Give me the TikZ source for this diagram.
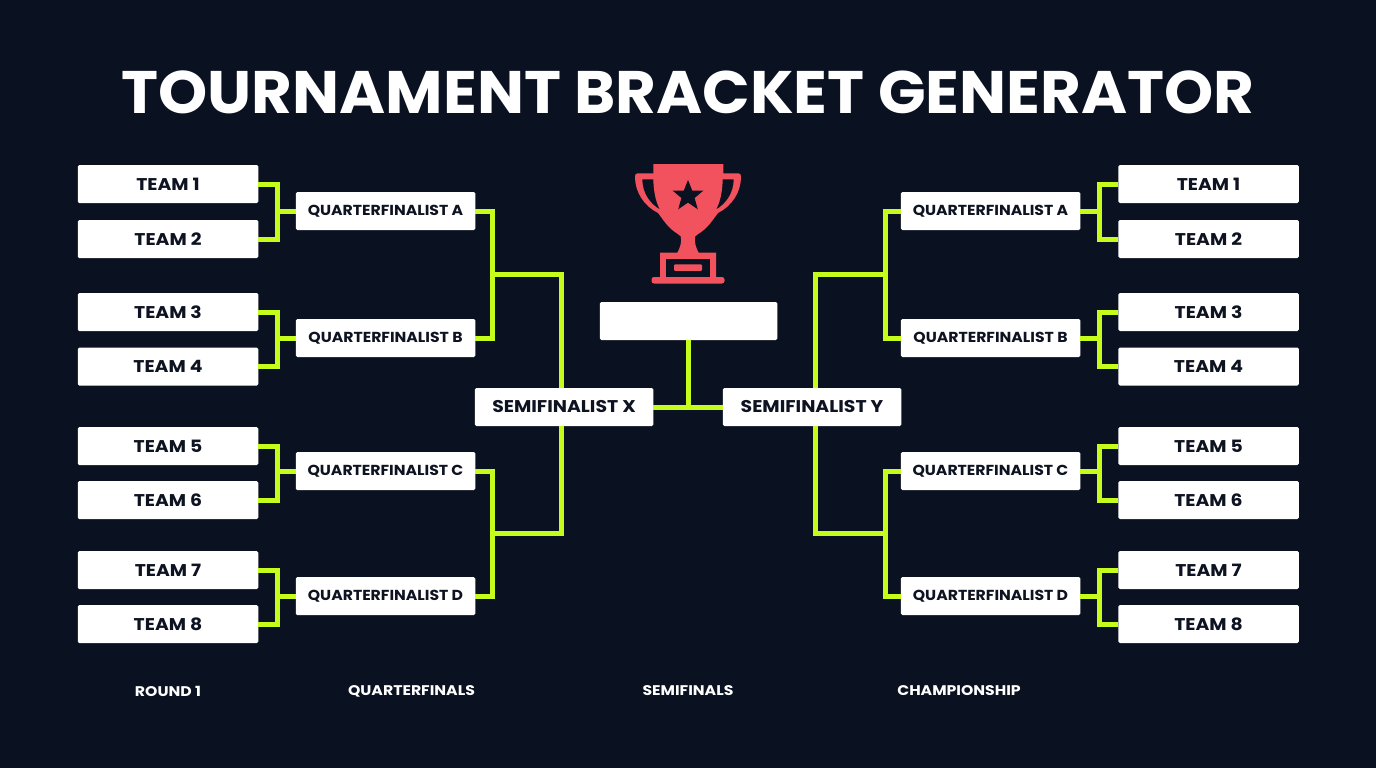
\documentclass[tikz,border=0pt]{standalone}
\usepackage{fontspec}
\setmainfont{Poppins}
\usetikzlibrary{calc}
\definecolor{bgc}{HTML}{0A1120}
\definecolor{lime}{HTML}{C6FC1C}
\definecolor{ink}{HTML}{0E1322}
\definecolor{cup}{HTML}{F2525E}
\newcommand{\widefont}[2]{\bfseries\fontsize{#1}{#1}\selectfont\addfontfeature{FakeStretch=#2}}
\newcommand{\lowtext}[1]{\raisebox{-0.8pt}{#1}}
\tikzset{
  box/.style={fill=white,rounded corners=1.5pt,inner sep=0pt,text=ink,minimum height=38pt},
  teamleaf/.style={box,font=\widefont{17}{1.105},minimum width=180.5pt},
  qfbox/.style={box,font=\widefont{14.5}{1.08},minimum width=179.5pt},
  sfbox/.style={box,font=\widefont{17}{1.11},minimum width=178.5pt},
  link/.style={draw=lime,line width=5pt,line join=miter},
  roundlabel/.style={text=white,font=\widefont{14}{1.12},inner sep=0pt},
  titletext/.style={text=white,font=\widefont{60}{1.043},inner sep=0pt},
  cupfill/.style={fill=cup,draw=none},
  holefill/.style={fill=bgc,draw=none}
}
\begin{document}
\begin{tikzpicture}[x=1pt,y=-1pt]
\fill[bgc] (0,0) rectangle (1376,768);
\useasboundingbox (0,0) rectangle (1376,768);

\node[titletext] (title) at (688,92) {TOURNAMENT BRACKET GENERATOR};

% left teams
\foreach \n/\y/\t in {a1/184/TEAM 1,a2/239/TEAM 2,a3/312/TEAM 3,a4/366.5/TEAM 4,a5/446/TEAM 5,a6/500/TEAM 6,a7/570/TEAM 7,a8/624/TEAM 8}
  \node[teamleaf] (\n) at (168,\y) {\t};
\foreach \n/\y/\t in {b1/184/TEAM 1,b2/239/TEAM 2,b3/312/TEAM 3,b4/366.5/TEAM 4,b5/446/TEAM 5,b6/500/TEAM 6,b7/570/TEAM 7,b8/624/TEAM 8}
  \node[teamleaf] (\n) at (1208.5,\y) {\t};
% quarterfinalists
\foreach \n/\y/\t in {qa/211/A,qb/338/B,qc/471/C,qd/596/D}
  \node[qfbox] (l\n) at (385.5,\y) {\lowtext{QUARTERFINALIST \t}};
\foreach \n/\y/\t in {qa/211/A,qb/338/B,qc/471/C,qd/596/D}
  \node[qfbox] (r\n) at (990.5,\y) {\lowtext{QUARTERFINALIST \t}};
% semis and final
\node[sfbox] (sx) at (564,407) {\lowtext{SEMIFINALIST X}};
\node[sfbox] (sy) at (812,407) {\lowtext{SEMIFINALIST Y}};
\node[box,minimum width=177.5pt] (final) at (688.5,321) {};

% left connectors
\foreach \u/\v/\q/\y in {a1/a2/lqa/211,a3/a4/lqb/338,a5/a6/lqc/471,a7/a8/lqd/596}{
  \coordinate (j\q) at (277,\y);
  \draw[link] (\u.east) -| (j\q) |- (\v.east);
  \draw[link] (j\q) -- (\q.west);
}
% right connectors
\foreach \u/\v/\q/\y in {b1/b2/rqa/211,b3/b4/rqb/338,b5/b6/rqc/471,b7/b8/rqd/596}{
  \coordinate (j\q) at (1099.5,\y);
  \draw[link] (\u.west) -| (j\q) |- (\v.west);
  \draw[link] (j\q) -- (\q.east);
}
% quarterfinal to semifinal, left
\coordinate (jlu) at (492,274);
\coordinate (jll) at (492,533);
\coordinate (ulx) at (561,274);
\coordinate (llx) at (561,533);
\draw[link] (lqa.east) -| (jlu) |- (lqb.east);
\draw[link] (lqc.east) -| (jll) |- (lqd.east);
\draw[link] (jlu) -- (ulx) -- (ulx |- sx.north);
\draw[link] (jll) -- (llx) -- (llx |- sx.south);
% quarterfinal to semifinal, right
\coordinate (jru) at (885,274);
\coordinate (jrl) at (885,533);
\coordinate (urx) at (815,274);
\coordinate (lrx) at (815,533);
\draw[link] (rqa.west) -| (jru) |- (rqb.west);
\draw[link] (rqc.west) -| (jrl) |- (rqd.west);
\draw[link] (jru) -- (urx) -- (urx |- sy.north);
\draw[link] (jrl) -- (lrx) -- (lrx |- sy.south);
% semis to final
\draw[link] (sx.east) -- (sy.west);
\draw[link] (final.south) -- (final.south |- sx.east);

% trophy
\path[cupfill,even odd rule]
  (653.3,164) -- (723.3,164)
  -- (723.3,173.3) -- (738.5,173.3)
  .. controls (740.5,173.3) and (741,175) .. (741,177)
  .. controls (741,192) and (732,206) .. (718,213)
  .. controls (714,218) and (712,222) .. (706,228)
  .. controls (702,232) and (697.5,234) .. (695.2,236.5)
  .. controls (694,242) and (696,248) .. (698.7,252.7)
  -- (716,252.7) -- (716,277.5) -- (660,277.5) -- (660,252.7) -- (677.3,252.7)
  .. controls (680,248) and (682,242) .. (680.8,236.5)
  .. controls (678.5,234) and (674,232) .. (670,228)
  .. controls (664,222) and (662,218) .. (658,213)
  .. controls (644,206) and (635,192) .. (635,177)
  .. controls (635,175) and (635.5,173.3) .. (637.5,173.3)
  -- (653.3,173.3) -- cycle
  (642.3,179.3) -- (653.3,179.3) .. controls (653.5,190) and (655.5,202) .. (660,209.5)
  .. controls (650,204) and (642.3,193) .. (642.3,179.3) -- cycle
  (733.7,179.3) -- (722.7,179.3) .. controls (722.5,190) and (720.5,202) .. (716,209.5)
  .. controls (726,204) and (733.7,193) .. (733.7,179.3) -- cycle;
\path[holefill] (666,258.5) rectangle (710,277.5);
\path[cupfill,rounded corners=1pt] (674,264.3) rectangle (702,270.8);
\path[cupfill,rounded corners=2.5pt] (651.5,277) rectangle (724.5,283.5);
\path[holefill]
  (688,180) -- (692.2,190.5) -- (703.5,190.5) -- (694.6,198) -- (697.8,209.3)
  -- (688,202.6) -- (678.2,209.3) -- (681.4,198) -- (672.5,190.5) -- (683.8,190.5) -- cycle;

% column labels
\node[roundlabel] (r1) at (168,691) {ROUND 1};
\node[roundlabel] (r2) at (411.5,691) {QUARTERFINALS};
\node[roundlabel] (r3) at (688,691) {SEMIFINALS};
\node[roundlabel] (r4) at (959,691) {CHAMPIONSHIP};
\end{tikzpicture}
\end{document}
